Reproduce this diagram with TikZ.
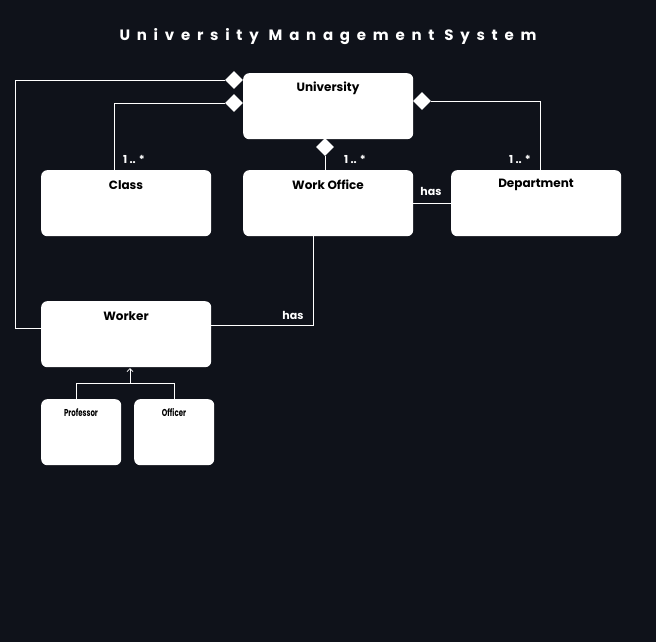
\documentclass[tikz,border=0pt]{standalone}
\usepackage{fontspec}
\setmainfont{Poppins}
\newfontfamily\titlefont{Poppins}[LetterSpace=45]
\usetikzlibrary{shapes.geometric,arrows.meta}
\definecolor{bg}{HTML}{0F121A}
\tikzset{
  box/.style={draw=none,fill=white,rounded corners=6pt,anchor=north west,
    minimum width=170pt,minimum height=66pt,inner sep=0pt},
  small/.style={box,minimum width=80pt},
  title/.style={font=\bfseries\fontsize{12}{14}\selectfont,text=black},
  link/.style={draw=white,line width=0.8pt},
  dia/.style={diamond,fill=white,inner sep=0pt,minimum width=18pt,minimum height=18pt},
  lbl/.style={text=white,font=\bfseries\fontsize{11}{13}\selectfont}
}
\begin{document}
\begin{tikzpicture}[x=1pt,y=-1pt]
\fill[bg] (0,0) rectangle (656,642);
\useasboundingbox (0,0) rectangle (656,642);
\node[text=white,font=\titlefont\bfseries\fontsize{15}{18}\selectfont] (head) at (328,37) {University Management System};
% classes
\node[box] (uni) at (243,73) {};
\node[box] (cls) at (41,170) {};
\node[box] (wo) at (243,170) {};
\node[box] (dep) at (451,170) {};
\node[box] (wrk) at (41,301) {};
\node[small] (prof) at (41,399) {};
\node[small] (off) at (134,399) {};
\node[title] at (328,88) {University};
\node[title] at (126,185) {Class};
\node[title] at (328,185) {Work Office};
\node[title] at (536,185) {Department};
\node[title] at (126,316) {Worker};
\node[text=black,font=\bfseries\fontsize{10}{12}\selectfont,xscale=0.7] at (81,413) {Professor};
\node[text=black,font=\bfseries\fontsize{10}{12}\selectfont,xscale=0.7] at (174,413) {Officer};
% aggregations
\node[dia] (d1) at (234,80) {};
\node[dia] (d2) at (234,103) {};
\node[dia] (d3) at (422,101) {};
\node[dia] (d4) at (325,147) {};
\coordinate (wl) at (41,328);
\draw[link] (wl) -- (15,328) -- (15,80) -- (d1.west);
\draw[link] (cls.north west) ++(73,0) |- (d2.west);
\draw[link] (dep.north west) ++(89,0) |- (d3.east);
\draw[link] (wo.north west) ++(82,0) -- (d4.south);
\node[lbl] at (134,159) {1 .. *};
\node[lbl] at (355,159) {1 .. *};
\node[lbl] at (520,159) {1 .. *};
% has
\draw[link] (413,203) -- (451,203);
\node[lbl] at (431,191) {has};
\draw[link] (313,236) -- (313,325) -- (211,325);
\node[lbl] at (293,315) {has};
% inheritance
\coordinate (jn) at (130,383);
\draw[link] (prof.north west) ++(35,0) |- (174,383) -- (174,399);
\draw[link,-{Straight Barb[length=3pt]}] (jn) -- (130,368);
\end{tikzpicture}
\end{document}
